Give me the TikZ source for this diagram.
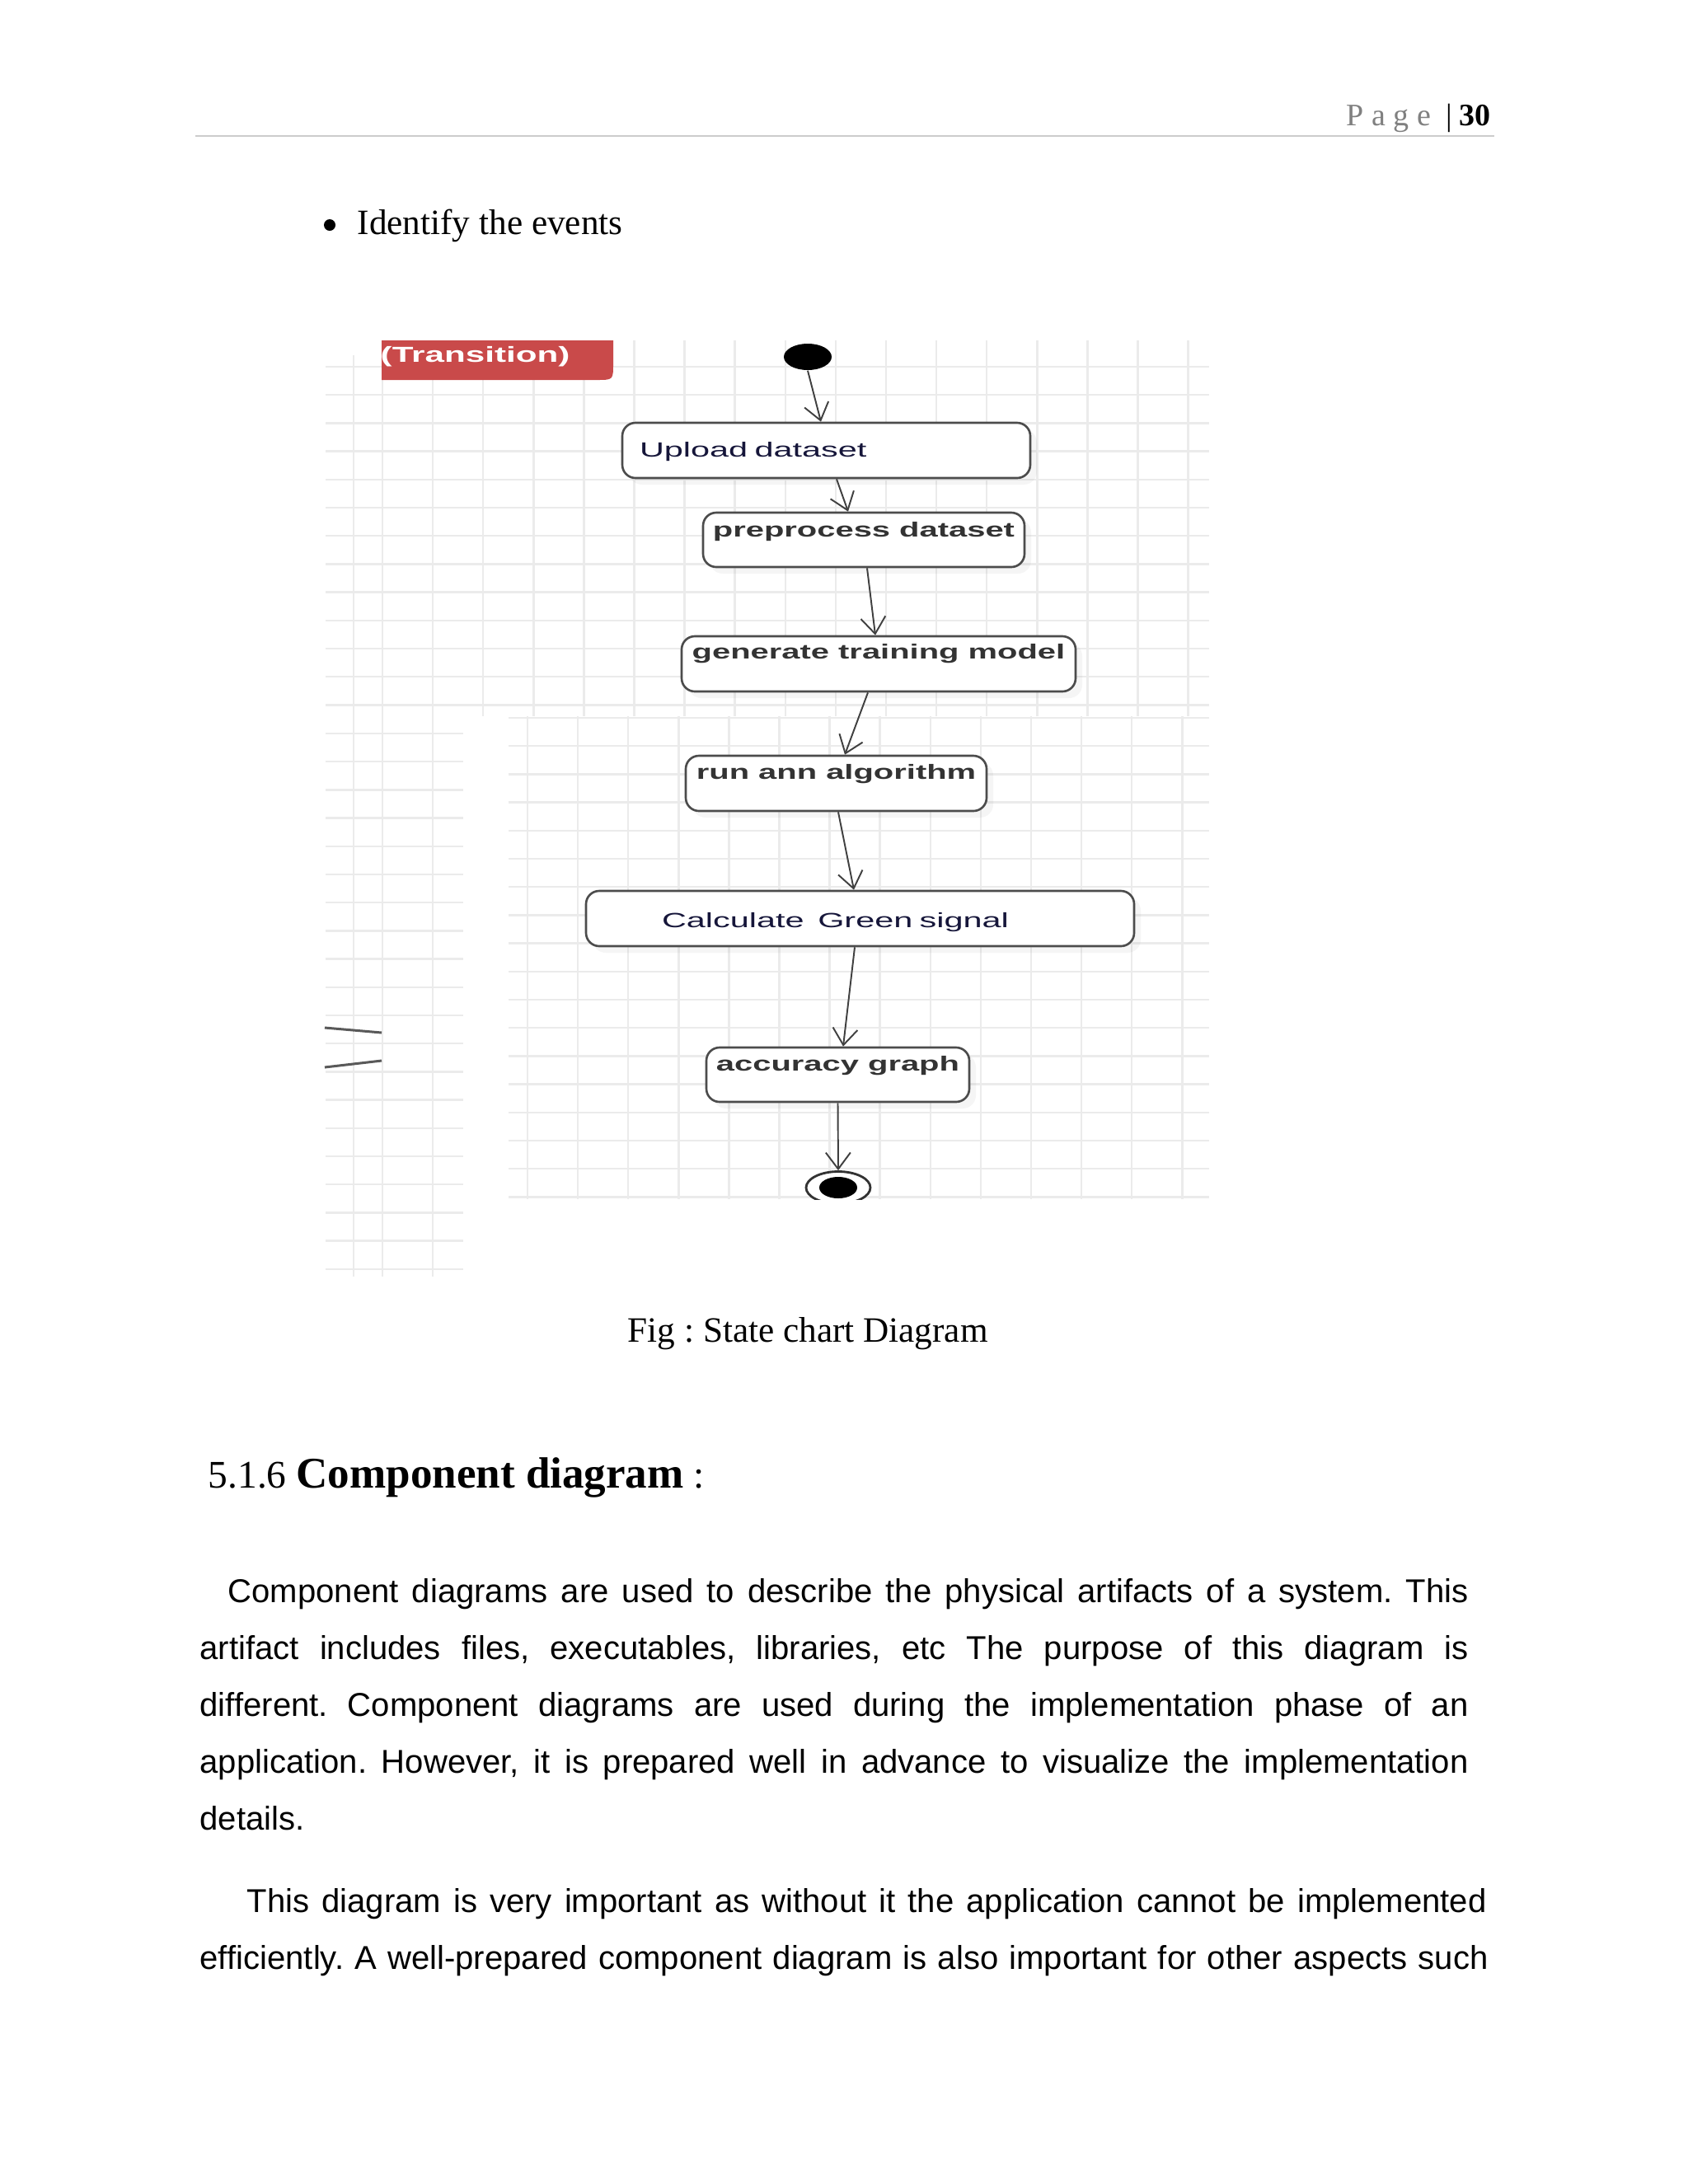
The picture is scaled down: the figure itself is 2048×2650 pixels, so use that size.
\documentclass[tikz,border=0pt]{standalone}
\usepackage{fontspec}
\setmainfont{Liberation Serif}
\setsansfont{Liberation Sans}
\newfontfamily\umlfont[FakeStretch=1.6]{Liberation Sans}
\newfontfamily\umlreg[FakeStretch=1.66]{Liberation Sans}
\usetikzlibrary{positioning,arrows.meta,shapes.geometric,shadows}
\definecolor{transred}{RGB}{201,74,74}
\definecolor{umlink}{RGB}{22,22,58}
\frenchspacing

\begin{document}
\begin{tikzpicture}[x=0.1mm,y=-0.1mm,>=latex]
\tikzstyle{state}=[draw=black!70,line width=0.75pt,rounded corners=1.6mm,fill=white,
  inner sep=0pt,font=\umlreg\fontsize{7.1}{8.5}\selectfont,text=umlink,
  drop shadow={shadow xshift=0.8mm,shadow yshift=-0.8mm,opacity=0.08}]
\tikzstyle{bstate}=[state,font=\umlfont\bfseries\fontsize{7.1}{8.5}\selectfont,text=black!80]
\tikzstyle{flow}=[draw=black!75,line width=0.55pt,-{Straight Barb[length=2mm,width=3mm]}]
\tikzstyle{gridln}=[draw=black!8,line width=0.25mm]
\tikzstyle{body}=[anchor=base west,inner sep=0pt,font=\sffamily\fontsize{11.4}{13}\selectfont]

\fill[white] (0,0) rectangle (2048,2650);
\useasboundingbox (0,0) rectangle (2048,2650);

% page header
\node[anchor=base west,inner sep=0pt,text=black!50,font=\fontsize{10.8}{13}\selectfont] (pg) at (1633,152) {P a g e};
\node[anchor=base,inner sep=0pt,font=\fontsize{10.8}{13}\selectfont] (bar) at (1758,152) {|};
\node[anchor=base west,inner sep=0pt,font=\bfseries\fontsize{10.8}{13}\selectfont] (num) at (1770,152) {30};
\draw[black!20,line width=0.2mm] (237,165) -- (1813,165);

\fill (400,273) circle (0.7mm);
\node[anchor=base west,inner sep=0pt,font=\fontsize{12.3}{14}\selectfont] (evt) at (433,284) {Identify the events};

% grid of the screenshot
\foreach \k in {0,...,16} \draw[gridln] ({464+61.1*\k},413) -- ({464+61.1*\k},869);
\foreach \k in {0,...,12} \draw[gridln] (395,{445+34.2*\k}) -- (1467,{445+34.2*\k});
\foreach \k in {0,...,13} \draw[gridln] ({640+61.1*\k},869) -- ({640+61.1*\k},1455);
\foreach \k in {0,...,17} \draw[gridln] (617,{871+34.2*\k}) -- (1467,{871+34.2*\k});
\foreach \k in {0,...,19} \draw[gridln] (395,{890+34.2*\k}) -- (562,{890+34.2*\k});
\draw[gridln] (429,431) -- (429,1549);
\draw[gridln] (464,869) -- (464,1549);
\draw[gridln] (525,869) -- (525,1549);
\draw[black!65,line width=0.3mm] (394,1247) -- (463,1253);
\draw[black!65,line width=0.3mm] (394,1295) -- (463,1287);

% transition tag
\fill[transred] (463,413) -- (744,413) -- (744,441) .. controls (744,461) .. (724,461) -- (463,461) -- cycle;
\node[anchor=west,inner sep=0pt,text=white,font=\umlfont\bfseries\fontsize{7.5}{9}\selectfont] (trans) at (461,433) {(Transition)};

% states
\node[ellipse,fill=black,minimum width=5.8mm,minimum height=3.2mm,inner sep=0pt] (init) at (980,433) {};
\node[state,text width=45.3mm,inner xsep=2.1mm,align=left,text height=4.1mm,text depth=2.6mm] (s1) at (1002.5,546.5) {Upload dataset};
\node[bstate,minimum width=39mm,text height=2.9mm,text depth=3.7mm] (s2) at (1048,655) {preprocess dataset};
\node[bstate,minimum width=47.8mm,text height=2.7mm,text depth=4mm] (s3) at (1066,805.5) {generate training model};
\node[bstate,minimum width=36.5mm,text height=2.8mm,text depth=3.9mm] (s4) at (1014.5,950.5) {run ann algorithm};
\node[state,text width=48.1mm,inner xsep=9.2mm,align=left,text height=4.4mm,text depth=2.3mm] (s5) at (1043.5,1114.5) {Calculate\ \ Green signal};
\node[bstate,minimum width=31.9mm,text height=2.8mm,text depth=3.8mm] (s6) at (1016.5,1304) {accuracy graph};
\begin{scope}
\clip (900,1400) rectangle (1130,1455);
\node[ellipse,draw=black!80,line width=0.8pt,fill=white,minimum width=7.8mm,minimum height=3.9mm,inner sep=0pt] (fin) at (1017,1441) {};
\fill (fin.center) ellipse [x radius=2.3mm,y radius=1.3mm];
\end{scope}

\draw[flow] (init.south) -- ([xshift=-0.65mm]s1.north);
\draw[flow] ([xshift=1.25mm]s1.south) -- ([xshift=-1.9mm]s2.north);
\draw[flow] ([xshift=0.4mm]s2.south) -- ([xshift=-0.4mm]s3.north);
\draw[flow] ([xshift=-1.3mm]s3.south) -- ([xshift=1.05mm]s4.north);
\draw[flow] ([xshift=0.25mm]s4.south) -- ([xshift=-0.75mm]s5.north);
\draw[flow] ([xshift=-0.65mm]s5.south) -- ([xshift=0.65mm]s6.north);
\draw[flow] (s6.south) -- (fin.north);

\node[anchor=base west,inner sep=0pt,font=\fontsize{12.3}{14}\selectfont] (cap) at (761,1628) {Fig : State chart Diagram};

\node[anchor=base west,inner sep=0pt] (sec) at (252,1805) {{\fontsize{13.5}{16}\selectfont 5.1.6 }{\bfseries\fontsize{15.1}{18}\selectfont Component diagram}{\fontsize{13.5}{16}\selectfont\ :}};

% body text
\node[body] (p1a) at (276,1944) {\makebox[150.5mm][s]{Component diagrams are used to describe the physical artifacts of a system. This}};
\node[body] (p1b) at (242,2013) {\makebox[153.9mm][s]{artifact includes files, executables, libraries, etc The purpose of this diagram is}};
\node[body] (p1c) at (242,2082) {\makebox[153.9mm][s]{different. Component diagrams are used during the implementation phase of an}};
\node[body] (p1d) at (242,2151) {\makebox[153.9mm][s]{application. However, it is prepared well in advance to visualize the implementation}};
\node[body] (p1e) at (242,2220) {details.};
\node[body] (p2a) at (299,2320) {\makebox[150.4mm][s]{This diagram is very important as without it the application cannot be implemented}};
\node[body] (p2b) at (242,2389) {\makebox[156.3mm][s]{efficiently. A well-prepared component diagram is also important for other aspects such}};
\end{tikzpicture}
\end{document}
